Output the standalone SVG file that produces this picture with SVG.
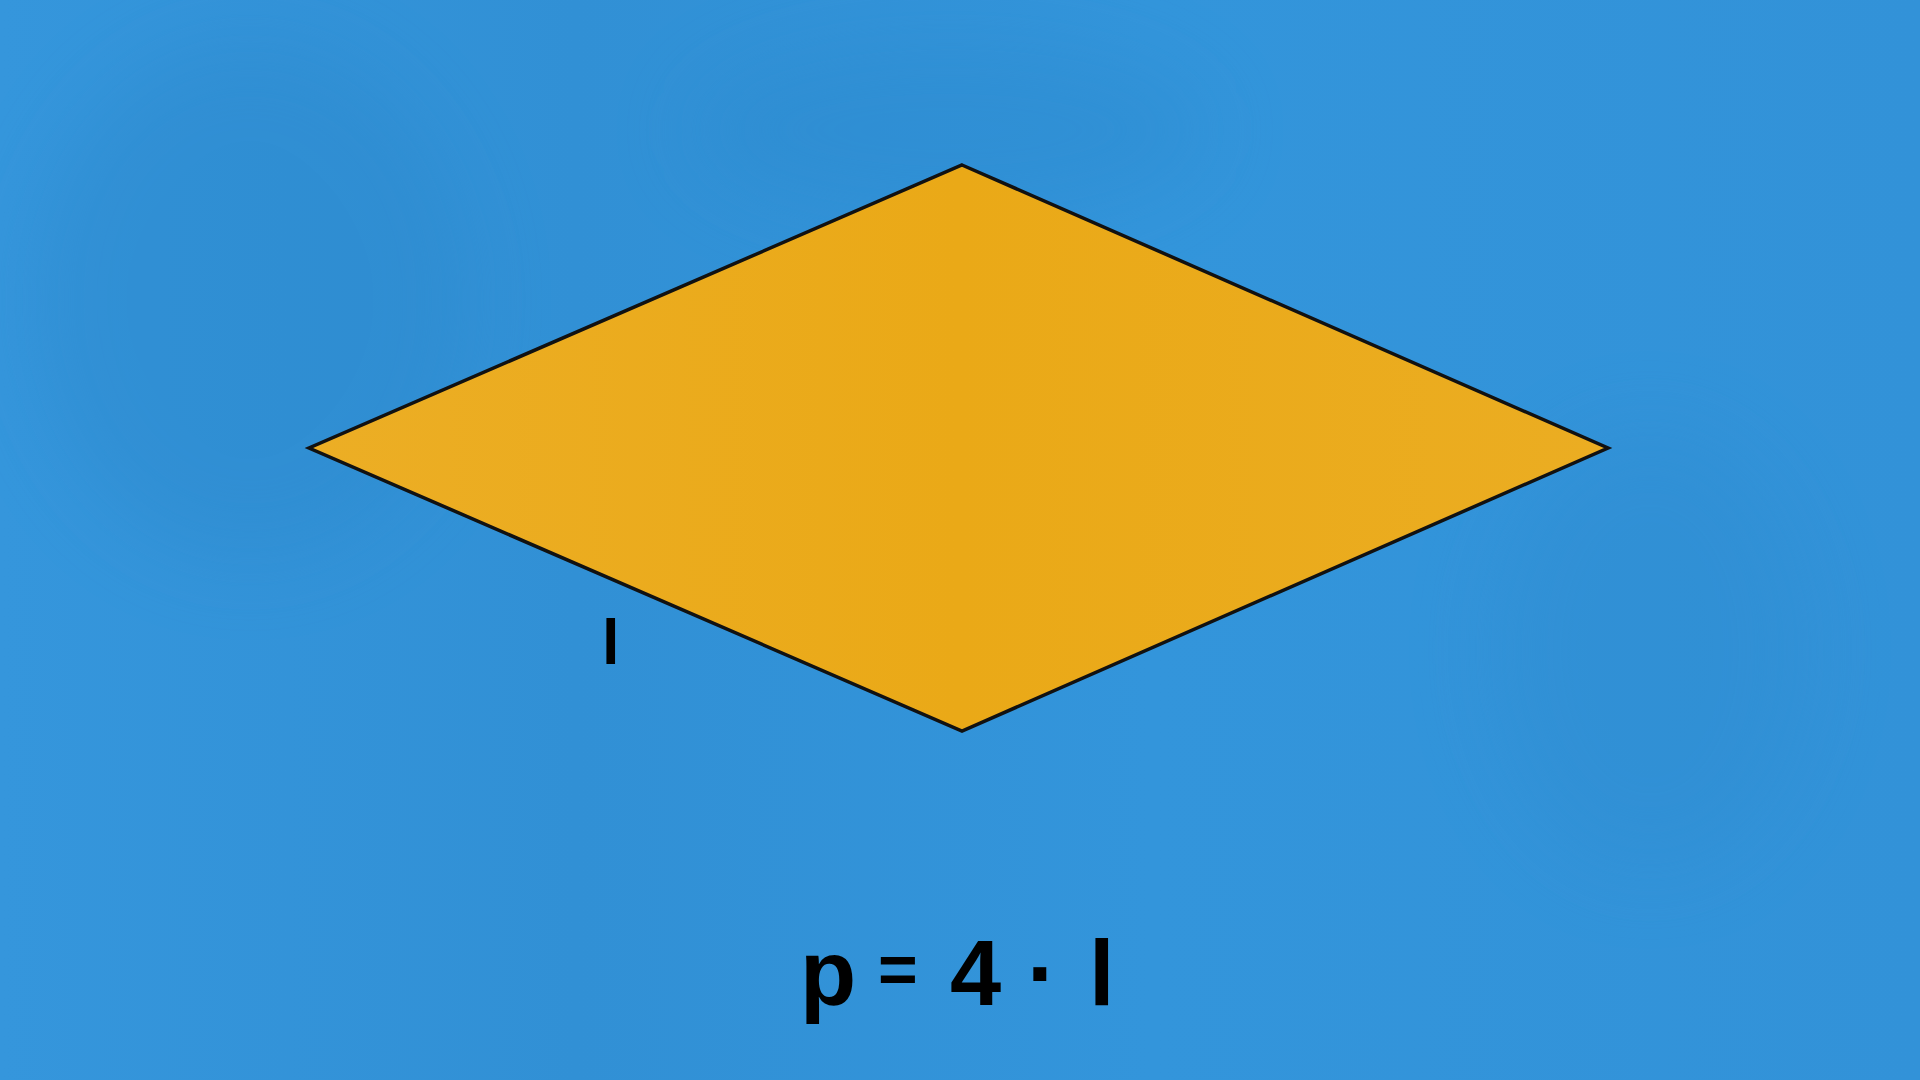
<svg xmlns="http://www.w3.org/2000/svg" width="1920" height="1080" viewBox="0 0 1920 1080">
<defs>
<style>
.lbl{font-family:"Liberation Sans","DejaVu Sans",sans-serif;font-weight:bold;fill:#000}
.shape{stroke:#111;stroke-width:3.5;stroke-linejoin:miter}
</style>
<linearGradient id="bg" x1="0" y1="0" x2="1" y2="0">
<stop offset="0" stop-color="#3596dc"/>
<stop offset="0.3" stop-color="#3190d5"/>
<stop offset="0.6" stop-color="#3395db"/>
<stop offset="1" stop-color="#3292d8"/>
</linearGradient>
<linearGradient id="fillg" x1="0" y1="0" x2="1" y2="0">
<stop offset="0" stop-color="#ecae25"/>
<stop offset="0.5" stop-color="#eaa917"/>
<stop offset="1" stop-color="#ebad22"/>
</linearGradient>
<filter id="blur" x="-50%" y="-50%" width="200%" height="200%"><feGaussianBlur stdDeviation="40"/></filter>
</defs>
<rect width="1920" height="1080" fill="url(#bg)"/>
<g filter="url(#blur)" opacity="0.35">
<ellipse cx="250" cy="300" rx="220" ry="260" fill="#2c86c9"/>
<ellipse cx="950" cy="130" rx="260" ry="90" fill="#2c88cc"/>
<ellipse cx="1650" cy="650" rx="160" ry="220" fill="#2e8bcf"/>
</g>
<g id="rhombus">
<polygon class="shape" points="962,165 1608,448 962,731 309,448" fill="url(#fillg)"/>
</g>
<g id="side-label">
<text class="lbl" x="602" y="664" font-size="63">l</text>
</g>
<g id="formula">
<text class="lbl" font-size="92" y="1005"><tspan x="800">p</tspan><tspan x="878" y="993" font-size="68">=</tspan><tspan x="950" y="1005">4</tspan><tspan x="1027">·</tspan><tspan x="1089">l</tspan></text>
</g>
</svg>
